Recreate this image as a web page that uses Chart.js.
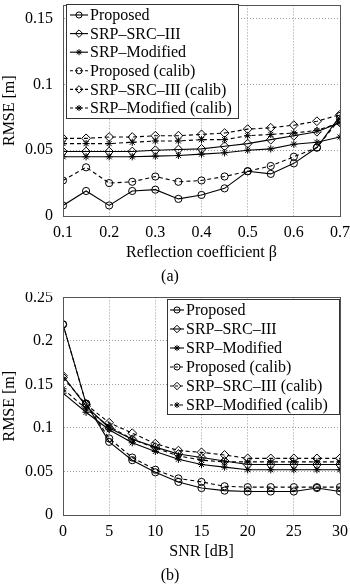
<!DOCTYPE html>
<html>
<head>
<meta charset="utf-8">
<script src="https://cdn.jsdelivr.net/npm/chart.js"></script>
<style>
  html, body { margin: 0; padding: 0; background: #fff; width: 350px; height: 584px; overflow: hidden; }
  .panel { position: absolute; left: 0; width: 350px; height: 292px; }
  #panel-a { top: 0; }
  #panel-b { top: 292px; }
</style>
</head>
<body>
<div class="panel" id="panel-a"><canvas id="chart-a" width="350" height="292"></canvas></div>
<div class="panel" id="panel-b"><canvas id="chart-b" width="350" height="292"></canvas></div>
<script>
// ---- data ----
const seriesNames = ["Proposed", "SRP–SRC–III", "SRP–Modified", "Proposed (calib)", "SRP–SRC–III (calib)", "SRP–Modified (calib)"];

// (a) RMSE vs reflection coefficient
const betaValues = [0.1, 0.15, 0.2, 0.25, 0.3, 0.35, 0.4, 0.45, 0.5, 0.55, 0.6, 0.65, 0.7];
const proposedA    = [0.008, 0.019, 0.008, 0.019, 0.020, 0.013, 0.016, 0.021, 0.034, 0.032, 0.040, 0.052, 0.076];
const srcA         = [0.049, 0.049, 0.049, 0.049, 0.050, 0.0505, 0.051, 0.053, 0.055, 0.058, 0.061, 0.064, 0.071];
const modifiedA    = [0.045, 0.045, 0.045, 0.045, 0.0455, 0.046, 0.047, 0.048, 0.050, 0.051, 0.0545, 0.056, 0.060];
const proposedCalA = [0.027, 0.037, 0.025, 0.026, 0.030, 0.026, 0.027, 0.030, 0.034, 0.038, 0.045, 0.052, 0.074];
const srcCalA      = [0.059, 0.059, 0.060, 0.060, 0.061, 0.061, 0.062, 0.063, 0.066, 0.067, 0.069, 0.072, 0.077];
const modifiedCalA = [0.055, 0.055, 0.055, 0.056, 0.057, 0.057, 0.058, 0.058, 0.061, 0.062, 0.063, 0.065, 0.071];
const betaTicks = [0.1, 0.2, 0.3, 0.4, 0.5, 0.6, 0.7];
const rmseTicksA = [0, 0.05, 0.1, 0.15];

// (b) RMSE vs SNR
const snrValues = [0, 2.5, 5, 7.5, 10, 12.5, 15, 17.5, 20, 22.5, 25, 27.5, 30];
const proposedB    = [0.219, 0.128, 0.084, 0.063, 0.049, 0.038, 0.031, 0.028, 0.027, 0.027, 0.027, 0.031, 0.027];
const srcB         = [0.160, 0.125, 0.100, 0.087, 0.078, 0.070, 0.066, 0.062, 0.058, 0.058, 0.058, 0.058, 0.058];
const modifiedB    = [0.140, 0.118, 0.098, 0.083, 0.073, 0.064, 0.058, 0.055, 0.052, 0.052, 0.052, 0.052, 0.052];
const proposedCalB = [0.219, 0.128, 0.088, 0.066, 0.052, 0.042, 0.038, 0.033, 0.032, 0.032, 0.032, 0.032, 0.032];
const srcCalB      = [0.158, 0.127, 0.106, 0.094, 0.082, 0.074, 0.072, 0.069, 0.065, 0.065, 0.065, 0.065, 0.065];
const modifiedCalB = [0.145, 0.122, 0.102, 0.087, 0.077, 0.068, 0.063, 0.061, 0.061, 0.061, 0.061, 0.061, 0.061];
const snrTicks = [0, 5, 10, 15, 20, 25, 30];
const rmseTicksB = [0, 0.05, 0.1, 0.15, 0.2, 0.25];

// ---- styles ----
const FONT = "'Liberation Serif', 'Times New Roman', serif";
const markerStyles = ["circle", "rectRot", "star", "circle", "rectRot", "star"];
const isDashed = [false, false, false, true, true, true];
const markerSize = { circle: 3.6, rectRot: 4.4, star: 3.6 };

function buildDatasets(xs, seriesList) {
  return seriesList.map((vals, i) => ({
    label: seriesNames[i],
    data: vals.map((v, k) => ({ x: xs[k], y: v })),
    borderColor: "#000",
    borderWidth: 1.1,
    borderDash: isDashed[i] ? [4, 3] : [],
    pointStyle: markerStyles[i],
    pointRadius: markerSize[markerStyles[i]],
    pointBorderColor: "#000",
    pointBackgroundColor: "rgba(0,0,0,0)",
    pointBorderWidth: 1,
    tension: 0,
    fill: false
  }));
}

function drawMarker(ctx, style, x, y, r) {
  ctx.beginPath();
  if (style === "circle") {
    ctx.arc(x, y, r, 0, Math.PI * 2);
  } else if (style === "rectRot") {
    ctx.moveTo(x, y - r); ctx.lineTo(x + r, y); ctx.lineTo(x, y + r); ctx.lineTo(x - r, y); ctx.closePath();
  } else {
    for (let k = 0; k < 4; k++) {
      const a = k * Math.PI / 4;
      ctx.moveTo(x - Math.cos(a) * r, y - Math.sin(a) * r);
      ctx.lineTo(x + Math.cos(a) * r, y + Math.sin(a) * r);
    }
  }
  ctx.stroke();
}

// axes box + matlab-style legend
const frameLegend = {
  id: "frameLegend",
  afterDraw(chart, args, L) {
    const { ctx, chartArea: a } = chart;
    ctx.save();
    ctx.strokeStyle = "#555";
    ctx.lineWidth = 1;
    ctx.strokeRect(Math.round(a.left) + 0.5, Math.round(a.top) + 0.5, Math.round(a.right - a.left), Math.round(a.bottom - a.top));

    ctx.fillStyle = "#fff";
    ctx.fillRect(L.x, L.y, L.w, L.h);
    ctx.strokeStyle = "#333";
    ctx.strokeRect(L.x + 0.5, L.y + 0.5, L.w, L.h);
    ctx.font = `16px ${FONT}`;
    ctx.textBaseline = "middle";
    chart.data.datasets.forEach((ds, i) => {
      const y = L.rowY + i * L.rowH;
      ctx.strokeStyle = "#000";
      ctx.lineWidth = 1.1;
      ctx.setLineDash(ds.borderDash.length ? [3, 2] : []);
      ctx.beginPath(); ctx.moveTo(L.x0, y); ctx.lineTo(L.x1, y); ctx.stroke();
      ctx.setLineDash([]);
      ctx.lineWidth = 1;
      drawMarker(ctx, ds.pointStyle, (L.x0 + L.x1) / 2, y, ds.pointRadius * 0.85);
      ctx.fillStyle = "#000";
      ctx.fillText(ds.label, L.tx, y + 1);
    });
    ctx.restore();
  }
};

function axisFont() { return { family: FONT, size: 16 }; }

function makeChart(canvasId, o) {
  return new Chart(document.getElementById(canvasId), {
    type: "line",
    data: { datasets: buildDatasets(o.xs, o.series) },
    plugins: [frameLegend],
    options: {
      responsive: false,
      animation: false,
      layout: { padding: { top: o.padTop, right: 10, bottom: 0, left: 0 } },
      plugins: {
        legend: { display: false },
        tooltip: { enabled: false },
        title: {
          display: true, text: o.caption, position: "bottom", color: "#000",
          font: { family: FONT, size: 16, weight: "normal", lineHeight: 1 },
          padding: o.captionPad
        },
        frameLegend: o.legend
      },
      scales: {
        x: {
          type: "linear", min: o.xMin, max: o.xMax,
          afterBuildTicks: s => { s.ticks = o.xTicks.map(v => ({ value: v })); },
          afterFit: s => { s.height = 50; s.paddingLeft = 0; s.paddingRight = 0; },
          ticks: { color: "#000", font: axisFont(), padding: 7, maxRotation: 0, callback: v => String(v) },
          grid: { color: "#9a9a9a", drawTicks: false },
          border: { display: true, color: "#555", dash: [1, 2] },
          title: { display: true, text: o.xTitle, color: "#000", font: axisFont(), padding: { top: 0, bottom: o.xTitlePad } }
        },
        y: {
          min: 0, max: o.yMax,
          afterBuildTicks: s => { s.ticks = o.yTicks.map(v => ({ value: v })); },
          afterFit: s => { s.width = 63; s.paddingTop = 0; s.paddingBottom = 0; },
          ticks: { color: "#000", font: axisFont(), padding: 10, callback: v => String(v) },
          grid: { color: "#9a9a9a", drawTicks: false },
          border: { display: true, color: "#555", dash: [1, 2] },
          title: { display: true, text: "RMSE [m]", color: "#000", font: axisFont(), padding: { top: 0, bottom: 0 } }
        }
      }
    }
  });
}

makeChart("chart-a", {
  xs: betaValues,
  series: [proposedA, srcA, modifiedA, proposedCalA, srcCalA, modifiedCalA],
  xMin: 0.1, xMax: 0.7, xTicks: betaTicks,
  yMax: 0.16, yTicks: rmseTicksA,
  xTitle: "Reflection coefficient β", xTitlePad: 4,
  caption: "(a)", captionPad: { top: 2.5, bottom: 7.5 },
  padTop: 3,
  legend: { x: 66, y: 4, w: 172, h: 114, rowY: 15, rowH: 18.6, x0: 70, x1: 88, tx: 90 }
});

makeChart("chart-b", {
  xs: snrValues,
  series: [proposedB, srcB, modifiedB, proposedCalB, srcCalB, modifiedCalB],
  xMin: 0, xMax: 30, xTicks: snrTicks,
  yMax: 0.25, yTicks: rmseTicksB,
  xTitle: "SNR [dB]", xTitlePad: 3.5,
  caption: "(b)", captionPad: { top: 3, bottom: 0 },
  padTop: 5,
  legend: { x: 167, y: 7, w: 172, h: 115, rowY: 18, rowH: 19, x0: 170, x1: 184, tx: 186 }
});
</script>
</body>
</html>
